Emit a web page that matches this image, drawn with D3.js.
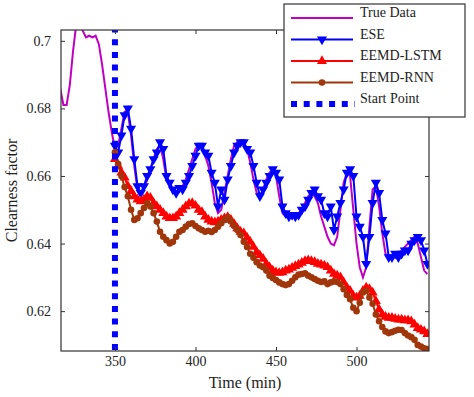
<!DOCTYPE html>
<html>
<head>
<meta charset="utf-8">
<script src="https://cdn.jsdelivr.net/npm/d3@7"></script>
<style>
body { margin: 0; background: #fff; }
svg text { font-family: "Times New Roman", "Liberation Serif", "DejaVu Serif", "Noto Serif", serif !important; fill: #222; }
</style>
</head>
<body>
<script>
// time axis (min)
let trueTime = d3.range(316, 545, 2);
let predTime = d3.range(350, 545, 2);

let trueData = [0.686,0.681,0.681,0.687,0.697,0.705,0.707,0.703,0.701,0.7015,0.701,0.7015,0.699,0.693,0.686,0.679,0.673,
  0.668,0.669,0.674,0.679,0.679,0.672,0.663,0.656,0.654,0.656,0.659,0.662,0.665,0.668,0.669,0.665,0.659,0.657,0.655,0.655,
  0.656,0.657,0.659,0.662,0.665,0.668,0.669,0.668,0.666,0.663,0.658,0.652,0.649,0.650,0.655,0.660,0.665,0.669,0.670,0.6705,
  0.670,0.668,0.664,0.659,0.655,0.654,0.656,0.659,0.661,0.662,0.660,0.654,0.649,0.648,0.6475,0.648,0.648,0.649,0.650,0.652,
  0.654,0.655,0.654,0.652,0.648,0.645,0.642,0.640,0.6395,0.642,0.650,0.658,0.661,0.660,0.650,0.640,0.633,0.630,0.633,0.645,
  0.656,0.657,0.651,0.643,0.637,0.636,0.636,0.637,0.637,0.638,0.639,0.640,0.641,0.642,0.640,0.636,0.632,0.631];

let ese = [0.669,0.667,0.672,0.678,0.680,0.674,0.665,0.657,0.655,0.657,0.660,0.662,0.665,0.667,0.670,0.668,0.660,0.658,
  0.656,0.655,0.6565,0.656,0.658,0.660,0.663,0.666,0.669,0.669,0.667,0.666,0.661,0.658,0.651,0.656,0.653,0.659,0.663,0.667,
  0.669,0.670,0.670,0.668,0.667,0.663,0.658,0.654,0.656,0.658,0.660,0.662,0.661,0.659,0.651,0.649,0.648,0.6485,0.648,0.6485,
  0.650,0.651,0.653,0.655,0.656,0.654,0.653,0.649,0.648,0.651,0.644,0.648,0.652,0.656,0.661,0.662,0.660,0.648,0.645,0.642,
  0.634,0.642,0.652,0.658,0.655,0.647,0.643,0.636,0.636,0.637,0.636,0.637,0.638,0.638,0.640,0.641,0.642,0.641,0.638,0.634];

let eemdLstm = [0.665,0.663,0.661,0.6595,0.657,0.6555,0.654,0.653,0.6525,0.653,0.654,0.6535,0.652,0.651,0.650,0.649,0.648,
  0.6475,0.6475,0.648,0.649,0.650,0.651,0.6518,0.652,0.6512,0.650,0.6493,0.648,0.647,0.6465,0.6463,0.6465,0.647,0.6475,0.6478,
  0.647,0.6458,0.6445,0.6435,0.643,0.6418,0.6405,0.639,0.6375,0.6365,0.6355,0.634,0.633,0.632,0.6315,0.6313,0.6315,0.632,
  0.6323,0.6328,0.6333,0.6338,0.6343,0.6348,0.635,0.6348,0.6345,0.634,0.6338,0.6335,0.633,0.632,0.631,0.6305,0.630,0.6285,
  0.627,0.626,0.6245,0.624,0.6245,0.626,0.627,0.6265,0.6255,0.623,0.6205,0.619,0.6183,0.618,0.618,0.6177,0.6175,0.6175,
  0.6173,0.6173,0.617,0.616,0.615,0.6145,0.614,0.6132];

let eemdRnn = [0.667,0.6635,0.660,0.6567,0.654,0.650,0.647,0.6475,0.649,0.6505,0.652,0.651,0.649,0.6465,0.6435,0.642,0.641,
  0.640,0.6405,0.642,0.6435,0.644,0.645,0.6458,0.646,0.6452,0.6445,0.644,0.6435,0.6438,0.6434,0.644,0.645,0.646,0.647,0.6478,
  0.6465,0.6452,0.644,0.6425,0.6405,0.639,0.637,0.6358,0.6345,0.6335,0.633,0.632,0.6305,0.6298,0.6292,0.6285,0.628,0.6277,
  0.628,0.629,0.630,0.6308,0.631,0.6312,0.6305,0.630,0.6295,0.629,0.6286,0.6288,0.628,0.6285,0.6288,0.6286,0.628,0.6265,
  0.6248,0.6235,0.621,0.620,0.6225,0.6255,0.626,0.624,0.6222,0.619,0.617,0.6153,0.614,0.6135,0.6138,0.6142,0.6145,0.6144,
  0.6135,0.6128,0.6123,0.6115,0.610,0.6095,0.609,0.6088];

let startPoint = 350;
let xTicks = [350, 400, 450, 500];
let yTicks = [0.62, 0.64, 0.66, 0.68, 0.70];
let legendNames = ["True Data", "ESE", "EEMD-LSTM", "EEMD-RNN", "Start Point"];

let W = 474, H = 397;
let mLeft = 61, mRight = 429, mTop = 30, mBottom = 351;
let serif = "'Times New Roman', 'Liberation Serif', 'DejaVu Serif', serif";

let svg = d3.select("body").append("svg")
    .attr("width", W)
    .attr("height", H)
    .attr("font-family", serif);

let x = d3.scaleLinear().domain([316.5, 545]).range([mLeft, mRight]);
let y = d3.scaleLinear().domain([0.6082, 0.7032]).range([mBottom, mTop]);

svg.append("clipPath").attr("id", "plot")
    .append("rect")
    .attr("x", mLeft).attr("y", mTop)
    .attr("width", mRight - mLeft).attr("height", mBottom - mTop);

let g = svg.append("g").attr("clip-path", "url(#plot)");

let line = d3.line().x(d => x(d[0])).y(d => y(d[1]));
let zip = (t, v) => t.map((k, i) => [k, v[i]]);

let colors = { truth: "#c000c0", ese: "#0000ff", lstm: "#ff0000", rnn: "#a0360a" };

// true data
g.append("path").datum(zip(trueTime, trueData))
    .attr("d", line).attr("fill", "none")
    .attr("stroke", colors.truth).attr("stroke-width", 2);

let tri = d3.symbol().type(d3.symbolTriangle).size(44);

// ESE
let eseData = zip(predTime, ese);
g.append("path").datum(eseData)
    .attr("d", line).attr("fill", "none")
    .attr("stroke", colors.ese).attr("stroke-width", 2);
g.selectAll(".ese").data(eseData).enter().append("path")
    .attr("d", tri)
    .attr("transform", d => `translate(${x(d[0])},${y(d[1])}) rotate(180)`)
    .attr("fill", colors.ese);

// EEMD-LSTM
let lstmData = zip(predTime, eemdLstm);
g.append("path").datum(lstmData)
    .attr("d", line).attr("fill", "none")
    .attr("stroke", colors.lstm).attr("stroke-width", 2);
g.selectAll(".lstm").data(lstmData).enter().append("path")
    .attr("d", tri)
    .attr("transform", d => `translate(${x(d[0])},${y(d[1])})`)
    .attr("fill", colors.lstm);

// EEMD-RNN
let rnnData = zip(predTime, eemdRnn);
g.append("path").datum(rnnData)
    .attr("d", line).attr("fill", "none")
    .attr("stroke", colors.rnn).attr("stroke-width", 2);
g.selectAll(".rnn").data(rnnData).enter().append("circle")
    .attr("cx", d => x(d[0])).attr("cy", d => y(d[1]))
    .attr("r", 3.3)
    .attr("fill", colors.rnn);

// start point
g.append("line")
    .attr("x1", x(startPoint)).attr("x2", x(startPoint))
    .attr("y1", mBottom - 1).attr("y2", mTop)
    .attr("stroke", "#0000ff").attr("stroke-width", 6)
    .attr("stroke-dasharray", "6,6.7");

// axes (box, ticks inward)
let axisColor = "#333";
svg.append("g").attr("transform", `translate(0,${mBottom})`)
    .call(d3.axisBottom(x).tickValues(xTicks).tickSize(-4).tickPadding(5))
    .call(a => a.select(".domain").remove());
svg.append("g").attr("transform", `translate(0,${mTop})`)
    .call(d3.axisTop(x).tickValues(xTicks).tickSize(-4).tickFormat(""))
    .call(a => a.select(".domain").remove());
svg.append("g").attr("transform", `translate(${mLeft},0)`)
    .call(d3.axisLeft(y).tickValues(yTicks).tickSize(-4).tickPadding(10).tickFormat(d3.format("~g")))
    .call(a => a.select(".domain").remove());
svg.append("g").attr("transform", `translate(${mRight},0)`)
    .call(d3.axisRight(y).tickValues(yTicks).tickSize(-4).tickFormat(""))
    .call(a => a.select(".domain").remove());

svg.selectAll(".tick line").attr("stroke", axisColor);
svg.selectAll("g").filter(function() { return this.getAttribute("font-family"); })
    .attr("font-family", serif);
svg.selectAll(".tick text")
    .attr("font-size", 14)
    .attr("fill", "#333");

svg.append("rect")
    .attr("x", mLeft).attr("y", mTop)
    .attr("width", mRight - mLeft).attr("height", mBottom - mTop)
    .attr("fill", "none").attr("stroke", axisColor).attr("stroke-width", 1.2);

// labels
svg.append("text")
    .attr("x", (mLeft + mRight) / 2).attr("y", 388)
    .attr("text-anchor", "middle").attr("font-size", 16)
    .text("Time (min)");

svg.append("text")
    .attr("transform", `translate(17,${(mTop + mBottom) / 2}) rotate(-90)`)
    .attr("text-anchor", "middle").attr("font-size", 16)
    .text("Clearness factor");

// legend
let lg = svg.append("g");
lg.append("rect")
    .attr("x", 284).attr("y", 4).attr("width", 181).attr("height", 113)
    .attr("fill", "#fff").attr("stroke", axisColor).attr("stroke-width", 1.2);

let rowY = d3.scalePoint().domain(legendNames).range([18, 104]);
let lx1 = 291, lx2 = 353, lmid = 322;

lg.selectAll(".ltext").data(legendNames).enter().append("text")
    .attr("x", 360).attr("y", d => rowY(d) - 1)
    .attr("font-size", 14)
    .text(d => d);

let lineCols = [colors.truth, colors.ese, colors.lstm, colors.rnn];
lineCols.forEach((c, i) => {
    lg.append("line")
        .attr("x1", lx1).attr("x2", lx2)
        .attr("y1", rowY(legendNames[i])).attr("y2", rowY(legendNames[i]))
        .attr("stroke", c).attr("stroke-width", 2);
});
lg.append("path").attr("d", tri)
    .attr("transform", `translate(${lmid},${rowY("ESE")}) rotate(180)`)
    .attr("fill", colors.ese);
lg.append("path").attr("d", tri)
    .attr("transform", `translate(${lmid},${rowY("EEMD-LSTM")})`)
    .attr("fill", colors.lstm);
lg.append("circle")
    .attr("cx", lmid).attr("cy", rowY("EEMD-RNN")).attr("r", 3.3)
    .attr("fill", colors.rnn);
lg.append("line")
    .attr("x1", lx1).attr("x2", lx2 + 2)
    .attr("y1", rowY("Start Point")).attr("y2", rowY("Start Point"))
    .attr("stroke", "#0000ff").attr("stroke-width", 6)
    .attr("stroke-dasharray", "6,6.7");
</script>
</body>
</html>
